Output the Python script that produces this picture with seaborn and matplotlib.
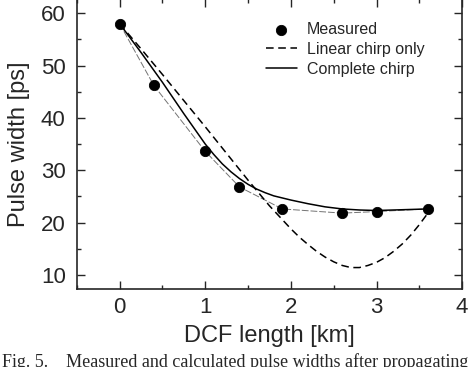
import numpy as np
import pandas as pd
import matplotlib.pyplot as plt
import seaborn as sns
from matplotlib.ticker import MultipleLocator

# measured pulse widths
meas_len = [0.0, 0.4, 1.0, 1.4, 1.9, 2.6, 3.0, 3.6]
meas_width = [58.0, 46.2, 33.6, 26.8, 22.6, 21.8, 22.1, 22.6]

# calculated: linear chirp only
lin_len = [0.0, 0.25, 0.5, 0.75, 1.0, 1.25, 1.5, 1.75, 2.0, 2.1, 2.2, 2.3, 2.4, 2.5,
           2.6, 2.7, 2.8, 2.9, 3.0, 3.1, 3.2, 3.3, 3.4, 3.5, 3.6]
lin_width = [58.0, 53.2, 48.3, 43.3, 38.3, 33.2, 28.1, 23.2, 18.8, 17.2, 15.8, 14.5, 13.4, 12.5,
             11.8, 11.4, 11.4, 11.8, 12.4, 13.3, 14.5, 15.9, 17.6, 19.6, 21.8]

# calculated: complete chirp
comp_len = [0.0, 0.25, 0.5, 0.75, 1.0, 1.1, 1.2, 1.3, 1.4, 1.5, 1.6, 1.7, 1.8, 1.9, 2.0,
            2.2, 2.4, 2.6, 2.8, 3.0, 3.2, 3.4, 3.6]
comp_width = [58.0, 52.5, 46.8, 40.8, 35.0, 33.0, 31.2, 29.7, 28.4, 27.3, 26.4, 25.7, 25.1, 24.7, 24.3,
              23.6, 23.0, 22.6, 22.4, 22.3, 22.4, 22.5, 22.6]

sns.set_style("ticks")
plt.rcParams['font.family'] = ['Liberation Sans', 'DejaVu Sans']

meas = pd.DataFrame({"x": meas_len, "y": meas_width})
lin = pd.DataFrame({"x": lin_len, "y": lin_width})
comp = pd.DataFrame({"x": comp_len, "y": comp_width})

fig = plt.figure(figsize=(4.74, 3.67), dpi=100)
ax = fig.add_axes([0.162, 0.2125, 0.813, 0.790])

# thin guide line through the measured points
sns.lineplot(data=meas, x="x", y="y", ax=ax, color="0.45", lw=0.7,
             linestyle=(0, (7, 2)), legend=False)
sns.lineplot(data=lin, x="x", y="y", ax=ax, color="black", lw=1.1,
             linestyle=(0, (5, 3)), label="Linear chirp only")
sns.lineplot(data=comp, x="x", y="y", ax=ax, color="black", lw=1.1,
             label="Complete chirp")
sns.scatterplot(data=meas, x="x", y="y", ax=ax, color="black", s=55,
                edgecolor="black", zorder=5, label="Measured")

ax.set_xlim(-0.5, 4)
ax.set_ylim(7.3, 62.7)
ax.xaxis.set_major_locator(MultipleLocator(1))
ax.xaxis.set_minor_locator(MultipleLocator(0.5))
ax.yaxis.set_major_locator(MultipleLocator(10))
ax.yaxis.set_minor_locator(MultipleLocator(5))
ax.tick_params(which="both", direction="in", top=True, right=True, width=1.0)
ax.tick_params(which="major", length=6, labelsize=16)
ax.tick_params(axis="x", which="major", pad=6)
ax.tick_params(axis="y", which="major", pad=8)
ax.tick_params(which="minor", length=3)
for s in ax.spines.values():
    s.set_linewidth(1.2)

ax.set_xlabel("DCF length [km]", fontsize=17, labelpad=5)
ax.set_ylabel("Pulse width [ps]", fontsize=17, labelpad=8)

h, l = ax.get_legend_handles_labels()
order = [l.index("Measured"), l.index("Linear chirp only"), l.index("Complete chirp")]
ax.legend([h[i] for i in order], [l[i] for i in order], loc="upper right",
          bbox_to_anchor=(0.94, 0.971), frameon=False, fontsize=11.5,
          handlelength=2.0, handletextpad=0.6, labelspacing=0.32)

fig.text(0.005, 1 - 353 / 367, "Fig. 5.    Measured and calculated pulse widths after propagating",
         family=["Liberation Serif", "DejaVu Serif"], fontsize=13, va="top", ha="left")

fig.savefig("out.png", dpi=100)
